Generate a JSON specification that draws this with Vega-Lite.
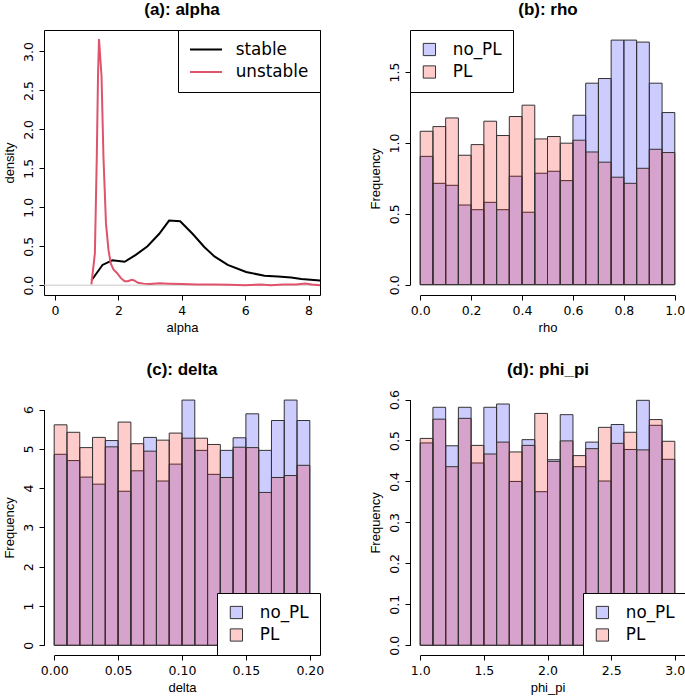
{
  "$schema": "https://vega.github.io/schema/vega-lite/v6.json",
  "background": "white",
  "autosize": {"type": "pad"},
  "padding": {"left": 2, "top": 0, "right": 0, "bottom": 0},
  "columns": 2,
  "spacing": {"row": 95, "column": 90},
  "bounds": "flush",
  "resolve": {
    "scale": {"x": "independent", "y": "independent", "color": "independent"},
    "legend": {"color": "independent"}
  },
  "config": {
    "font": "Liberation Sans",
    "view": {"stroke": null},
    "title": {"font": "Liberation Sans", "fontSize": 17, "fontWeight": "bold", "color": "black", "anchor": "middle", "frame": "group", "offset": 11},
    "axis": {
      "grid": false, "domainColor": "black", "domainWidth": 1,
      "tickColor": "black", "tickSize": 5, "tickWidth": 1,
      "labelFont": "DejaVu Sans", "labelFontSize": 12.5, "labelColor": "black",
      "labelFlush": false, "labelOverlap": false,
      "titleFont": "Liberation Sans", "titleFontSize": 13, "titleFontWeight": "normal", "titleColor": "black"
    },
    "axisX": {"labelPadding": 4, "titlePadding": 5},
    "axisY": {"labelAngle": 270, "labelAlign": "center", "labelBaseline": "alphabetic", "labelPadding": 6.6, "titlePadding": 6},
    "legend": {
      "strokeColor": "black", "fillColor": "white",
      "labelFont": "DejaVu Sans", "labelFontSize": 16.8, "labelColor": "black",
      "offset": 0, "padding": 11, "clipHeight": 17, "rowPadding": 4.5
    }
  },
  "datasets": {
    "alpha_density": [
      {"alpha": 1.15, "density": 0.06, "status": "stable"},
      {"alpha": 1.50, "density": 0.26, "status": "stable"},
      {"alpha": 1.81, "density": 0.32, "status": "stable"},
      {"alpha": 2.20, "density": 0.30, "status": "stable"},
      {"alpha": 2.55, "density": 0.39, "status": "stable"},
      {"alpha": 2.92, "density": 0.50, "status": "stable"},
      {"alpha": 3.29, "density": 0.66, "status": "stable"},
      {"alpha": 3.60, "density": 0.83, "status": "stable"},
      {"alpha": 3.95, "density": 0.82, "status": "stable"},
      {"alpha": 4.34, "density": 0.66, "status": "stable"},
      {"alpha": 4.71, "density": 0.49, "status": "stable"},
      {"alpha": 5.03, "density": 0.37, "status": "stable"},
      {"alpha": 5.45, "density": 0.26, "status": "stable"},
      {"alpha": 6.03, "density": 0.17, "status": "stable"},
      {"alpha": 6.61, "density": 0.12, "status": "stable"},
      {"alpha": 7.03, "density": 0.11, "status": "stable"},
      {"alpha": 7.45, "density": 0.10, "status": "stable"},
      {"alpha": 7.77, "density": 0.08, "status": "stable"},
      {"alpha": 8.36, "density": 0.06, "status": "stable"},
      {"alpha": 8.60, "density": 0.05, "status": "stable"},
      {"alpha": 1.15, "density": 0.01, "status": "unstable"},
      {"alpha": 1.26, "density": 0.41, "status": "unstable"},
      {"alpha": 1.32, "density": 1.65, "status": "unstable"},
      {"alpha": 1.36, "density": 2.72, "status": "unstable"},
      {"alpha": 1.39, "density": 3.16, "status": "unstable"},
      {"alpha": 1.47, "density": 2.68, "status": "unstable"},
      {"alpha": 1.53, "density": 1.65, "status": "unstable"},
      {"alpha": 1.61, "density": 0.79, "status": "unstable"},
      {"alpha": 1.69, "density": 0.45, "status": "unstable"},
      {"alpha": 1.76, "density": 0.28, "status": "unstable"},
      {"alpha": 1.85, "density": 0.20, "status": "unstable"},
      {"alpha": 1.95, "density": 0.16, "status": "unstable"},
      {"alpha": 2.08, "density": 0.09, "status": "unstable"},
      {"alpha": 2.20, "density": 0.05, "status": "unstable"},
      {"alpha": 2.30, "density": 0.05, "status": "unstable"},
      {"alpha": 2.42, "density": 0.07, "status": "unstable"},
      {"alpha": 2.50, "density": 0.06, "status": "unstable"},
      {"alpha": 2.62, "density": 0.03, "status": "unstable"},
      {"alpha": 2.80, "density": 0.02, "status": "unstable"},
      {"alpha": 3.00, "density": 0.015, "status": "unstable"},
      {"alpha": 3.30, "density": 0.025, "status": "unstable"},
      {"alpha": 3.60, "density": 0.02, "status": "unstable"},
      {"alpha": 4.00, "density": 0.015, "status": "unstable"},
      {"alpha": 4.50, "density": 0.01, "status": "unstable"},
      {"alpha": 5.00, "density": 0.01, "status": "unstable"},
      {"alpha": 5.50, "density": 0.005, "status": "unstable"},
      {"alpha": 6.00, "density": 0.0, "status": "unstable"},
      {"alpha": 6.50, "density": 0.01, "status": "unstable"},
      {"alpha": 6.80, "density": 0.0, "status": "unstable"},
      {"alpha": 7.20, "density": 0.01, "status": "unstable"},
      {"alpha": 7.60, "density": 0.01, "status": "unstable"},
      {"alpha": 7.90, "density": 0.02, "status": "unstable"},
      {"alpha": 8.10, "density": 0.01, "status": "unstable"},
      {"alpha": 8.36, "density": 0.0, "status": "unstable"}
    ],
    "rho_hist": [
      {"lo": 0.00, "hi": 0.05, "group": "no_PL", "freq": 0.905},
      {"lo": 0.05, "hi": 0.10, "group": "no_PL", "freq": 0.715},
      {"lo": 0.10, "hi": 0.15, "group": "no_PL", "freq": 0.701},
      {"lo": 0.15, "hi": 0.20, "group": "no_PL", "freq": 0.562},
      {"lo": 0.20, "hi": 0.25, "group": "no_PL", "freq": 0.529},
      {"lo": 0.25, "hi": 0.30, "group": "no_PL", "freq": 0.581},
      {"lo": 0.30, "hi": 0.35, "group": "no_PL", "freq": 0.529},
      {"lo": 0.35, "hi": 0.40, "group": "no_PL", "freq": 0.765},
      {"lo": 0.40, "hi": 0.45, "group": "no_PL", "freq": 0.511},
      {"lo": 0.45, "hi": 0.50, "group": "no_PL", "freq": 0.786},
      {"lo": 0.50, "hi": 0.55, "group": "no_PL", "freq": 0.800},
      {"lo": 0.55, "hi": 0.60, "group": "no_PL", "freq": 0.734},
      {"lo": 0.60, "hi": 0.65, "group": "no_PL", "freq": 1.195},
      {"lo": 0.65, "hi": 0.70, "group": "no_PL", "freq": 1.421},
      {"lo": 0.70, "hi": 0.75, "group": "no_PL", "freq": 1.454},
      {"lo": 0.75, "hi": 0.80, "group": "no_PL", "freq": 1.725},
      {"lo": 0.80, "hi": 0.85, "group": "no_PL", "freq": 1.725},
      {"lo": 0.85, "hi": 0.90, "group": "no_PL", "freq": 1.711},
      {"lo": 0.90, "hi": 0.95, "group": "no_PL", "freq": 1.421},
      {"lo": 0.95, "hi": 1.00, "group": "no_PL", "freq": 1.214},
      {"lo": 0.00, "hi": 0.05, "group": "PL", "freq": 1.082},
      {"lo": 0.05, "hi": 0.10, "group": "PL", "freq": 1.115},
      {"lo": 0.10, "hi": 0.15, "group": "PL", "freq": 1.176},
      {"lo": 0.15, "hi": 0.20, "group": "PL", "freq": 0.913},
      {"lo": 0.20, "hi": 0.25, "group": "PL", "freq": 0.988},
      {"lo": 0.25, "hi": 0.30, "group": "PL", "freq": 1.153},
      {"lo": 0.30, "hi": 0.35, "group": "PL", "freq": 1.052},
      {"lo": 0.35, "hi": 0.40, "group": "PL", "freq": 1.186},
      {"lo": 0.40, "hi": 0.45, "group": "PL", "freq": 1.266},
      {"lo": 0.45, "hi": 0.50, "group": "PL", "freq": 1.028},
      {"lo": 0.50, "hi": 0.55, "group": "PL", "freq": 1.045},
      {"lo": 0.55, "hi": 0.60, "group": "PL", "freq": 0.998},
      {"lo": 0.60, "hi": 0.65, "group": "PL", "freq": 1.019},
      {"lo": 0.65, "hi": 0.70, "group": "PL", "freq": 0.936},
      {"lo": 0.70, "hi": 0.75, "group": "PL", "freq": 0.864},
      {"lo": 0.75, "hi": 0.80, "group": "PL", "freq": 0.758},
      {"lo": 0.80, "hi": 0.85, "group": "PL", "freq": 0.715},
      {"lo": 0.85, "hi": 0.90, "group": "PL", "freq": 0.821},
      {"lo": 0.90, "hi": 0.95, "group": "PL", "freq": 0.955},
      {"lo": 0.95, "hi": 1.00, "group": "PL", "freq": 0.932}
    ],
    "delta_hist": [
      {"lo": 0.00, "hi": 0.01, "group": "no_PL", "freq": 4.86},
      {"lo": 0.01, "hi": 0.02, "group": "no_PL", "freq": 4.70},
      {"lo": 0.02, "hi": 0.03, "group": "no_PL", "freq": 4.28},
      {"lo": 0.03, "hi": 0.04, "group": "no_PL", "freq": 4.10},
      {"lo": 0.04, "hi": 0.05, "group": "no_PL", "freq": 5.21},
      {"lo": 0.05, "hi": 0.06, "group": "no_PL", "freq": 3.92},
      {"lo": 0.06, "hi": 0.07, "group": "no_PL", "freq": 4.44},
      {"lo": 0.07, "hi": 0.08, "group": "no_PL", "freq": 5.29},
      {"lo": 0.08, "hi": 0.09, "group": "no_PL", "freq": 4.18},
      {"lo": 0.09, "hi": 0.10, "group": "no_PL", "freq": 4.61},
      {"lo": 0.10, "hi": 0.11, "group": "no_PL", "freq": 6.24},
      {"lo": 0.11, "hi": 0.12, "group": "no_PL", "freq": 4.96},
      {"lo": 0.12, "hi": 0.13, "group": "no_PL", "freq": 4.35},
      {"lo": 0.13, "hi": 0.14, "group": "no_PL", "freq": 4.96},
      {"lo": 0.14, "hi": 0.15, "group": "no_PL", "freq": 5.28},
      {"lo": 0.15, "hi": 0.16, "group": "no_PL", "freq": 5.89},
      {"lo": 0.16, "hi": 0.17, "group": "no_PL", "freq": 4.96},
      {"lo": 0.17, "hi": 0.18, "group": "no_PL", "freq": 5.72},
      {"lo": 0.18, "hi": 0.19, "group": "no_PL", "freq": 6.24},
      {"lo": 0.19, "hi": 0.20, "group": "no_PL", "freq": 5.72},
      {"lo": 0.00, "hi": 0.01, "group": "PL", "freq": 5.61},
      {"lo": 0.01, "hi": 0.02, "group": "PL", "freq": 5.42},
      {"lo": 0.02, "hi": 0.03, "group": "PL", "freq": 5.03},
      {"lo": 0.03, "hi": 0.04, "group": "PL", "freq": 5.29},
      {"lo": 0.04, "hi": 0.05, "group": "PL", "freq": 5.05},
      {"lo": 0.05, "hi": 0.06, "group": "PL", "freq": 5.68},
      {"lo": 0.06, "hi": 0.07, "group": "PL", "freq": 5.13},
      {"lo": 0.07, "hi": 0.08, "group": "PL", "freq": 4.94},
      {"lo": 0.08, "hi": 0.09, "group": "PL", "freq": 5.22},
      {"lo": 0.09, "hi": 0.10, "group": "PL", "freq": 5.40},
      {"lo": 0.10, "hi": 0.11, "group": "PL", "freq": 5.27},
      {"lo": 0.11, "hi": 0.12, "group": "PL", "freq": 5.27},
      {"lo": 0.12, "hi": 0.13, "group": "PL", "freq": 5.11},
      {"lo": 0.13, "hi": 0.14, "group": "PL", "freq": 4.27},
      {"lo": 0.14, "hi": 0.15, "group": "PL", "freq": 5.04},
      {"lo": 0.15, "hi": 0.16, "group": "PL", "freq": 5.03},
      {"lo": 0.16, "hi": 0.17, "group": "PL", "freq": 3.89},
      {"lo": 0.17, "hi": 0.18, "group": "PL", "freq": 4.27},
      {"lo": 0.18, "hi": 0.19, "group": "PL", "freq": 4.32},
      {"lo": 0.19, "hi": 0.20, "group": "PL", "freq": 4.58}
    ],
    "phi_pi_hist": [
      {"lo": 1.0, "hi": 1.1, "group": "no_PL", "freq": 0.494},
      {"lo": 1.1, "hi": 1.2, "group": "no_PL", "freq": 0.581},
      {"lo": 1.2, "hi": 1.3, "group": "no_PL", "freq": 0.487},
      {"lo": 1.3, "hi": 1.4, "group": "no_PL", "freq": 0.581},
      {"lo": 1.4, "hi": 1.5, "group": "no_PL", "freq": 0.445},
      {"lo": 1.5, "hi": 1.6, "group": "no_PL", "freq": 0.581},
      {"lo": 1.6, "hi": 1.7, "group": "no_PL", "freq": 0.589},
      {"lo": 1.7, "hi": 1.8, "group": "no_PL", "freq": 0.400},
      {"lo": 1.8, "hi": 1.9, "group": "no_PL", "freq": 0.502},
      {"lo": 1.9, "hi": 2.0, "group": "no_PL", "freq": 0.375},
      {"lo": 2.0, "hi": 2.1, "group": "no_PL", "freq": 0.453},
      {"lo": 2.1, "hi": 2.2, "group": "no_PL", "freq": 0.563},
      {"lo": 2.2, "hi": 2.3, "group": "no_PL", "freq": 0.436},
      {"lo": 2.3, "hi": 2.4, "group": "no_PL", "freq": 0.496},
      {"lo": 2.4, "hi": 2.5, "group": "no_PL", "freq": 0.401},
      {"lo": 2.5, "hi": 2.6, "group": "no_PL", "freq": 0.539},
      {"lo": 2.6, "hi": 2.7, "group": "no_PL", "freq": 0.478},
      {"lo": 2.7, "hi": 2.8, "group": "no_PL", "freq": 0.598},
      {"lo": 2.8, "hi": 2.9, "group": "no_PL", "freq": 0.537},
      {"lo": 2.9, "hi": 3.0, "group": "no_PL", "freq": 0.454},
      {"lo": 1.0, "hi": 1.1, "group": "PL", "freq": 0.505},
      {"lo": 1.1, "hi": 1.2, "group": "PL", "freq": 0.552},
      {"lo": 1.2, "hi": 1.3, "group": "PL", "freq": 0.436},
      {"lo": 1.3, "hi": 1.4, "group": "PL", "freq": 0.554},
      {"lo": 1.4, "hi": 1.5, "group": "PL", "freq": 0.488},
      {"lo": 1.5, "hi": 1.6, "group": "PL", "freq": 0.467},
      {"lo": 1.6, "hi": 1.7, "group": "PL", "freq": 0.496},
      {"lo": 1.7, "hi": 1.8, "group": "PL", "freq": 0.472},
      {"lo": 1.8, "hi": 1.9, "group": "PL", "freq": 0.488},
      {"lo": 1.9, "hi": 2.0, "group": "PL", "freq": 0.566},
      {"lo": 2.0, "hi": 2.1, "group": "PL", "freq": 0.449},
      {"lo": 2.1, "hi": 2.2, "group": "PL", "freq": 0.499},
      {"lo": 2.2, "hi": 2.3, "group": "PL", "freq": 0.463},
      {"lo": 2.3, "hi": 2.4, "group": "PL", "freq": 0.480},
      {"lo": 2.4, "hi": 2.5, "group": "PL", "freq": 0.532},
      {"lo": 2.5, "hi": 2.6, "group": "PL", "freq": 0.493},
      {"lo": 2.6, "hi": 2.7, "group": "PL", "freq": 0.520},
      {"lo": 2.7, "hi": 2.8, "group": "PL", "freq": 0.477},
      {"lo": 2.8, "hi": 2.9, "group": "PL", "freq": 0.551},
      {"lo": 2.9, "hi": 3.0, "group": "PL", "freq": 0.498}
    ]
  },
  "concat": [
    {
      "title": "(a): alpha",
      "width": 276,
      "height": 265,
      "view": {"stroke": "black", "strokeWidth": 1},
      "layer": [
        {
          "data": {"values": [{}]},
          "mark": {"type": "rule", "color": "#c8c8c8", "strokeWidth": 1},
          "encoding": {"y": {"datum": 0, "type": "quantitative"}}
        },
        {
          "data": {"name": "alpha_density"},
          "mark": {"type": "line", "strokeWidth": 2, "clip": true},
          "encoding": {
            "x": {
              "field": "alpha", "type": "quantitative",
              "scale": {"domain": [-0.345, 8.36], "nice": false, "zero": false},
              "axis": {"values": [0, 2, 4, 6, 8], "format": "d", "domain": false, "title": "alpha"}
            },
            "y": {
              "field": "density", "type": "quantitative",
              "scale": {"domain": [-0.126, 3.276], "nice": false, "zero": false},
              "axis": {"values": [0, 0.5, 1, 1.5, 2, 2.5, 3], "format": ".1f", "domain": false, "title": "density"}
            },
            "color": {
              "field": "status", "type": "nominal",
              "scale": {"domain": ["stable", "unstable"], "range": ["black", "#DF536B"]},
              "legend": {"title": null, "orient": "top-right", "symbolType": "stroke", "symbolSize": 1024, "symbolStrokeWidth": 2, "labelOffset": 12.7}
            }
          }
        }
      ]
    },
    {
      "title": "(b): rho",
      "width": 276,
      "height": 265,
      "data": {"name": "rho_hist"},
      "mark": {"type": "bar", "stroke": "#333333", "strokeWidth": 1},
      "encoding": {
        "x": {
          "field": "lo", "type": "quantitative",
          "scale": {"domain": [0, 1], "range": [10.2, 264.8], "nice": false, "zero": false},
          "axis": {"values": [0, 0.2, 0.4, 0.6, 0.8, 1], "format": ".1f", "title": "rho"}
        },
        "x2": {"field": "hi"},
        "y": {
          "field": "freq", "type": "quantitative", "stack": null,
          "scale": {"domain": [0, 1.5], "range": [254.7, 42.0], "nice": false, "zero": false},
          "axis": {"values": [0, 0.5, 1, 1.5], "format": ".1f", "title": "Frequency"}
        },
        "y2": {"datum": 0},
        "color": {
          "field": "group", "type": "nominal",
          "scale": {"domain": ["no_PL", "PL"], "range": ["rgba(0,0,255,0.2)", "rgba(255,0,0,0.2)"]},
          "legend": {"title": null, "orient": "top-left", "symbolType": "square", "symbolSize": 150, "symbolStrokeColor": "#333333", "symbolStrokeWidth": 1, "labelOffset": 15}
        }
      }
    },
    {
      "title": "(c): delta",
      "width": 276,
      "height": 265,
      "data": {"name": "delta_hist"},
      "mark": {"type": "bar", "stroke": "#333333", "strokeWidth": 1},
      "encoding": {
        "x": {
          "field": "lo", "type": "quantitative",
          "scale": {"domain": [0, 0.2], "range": [10.2, 265.8], "nice": false, "zero": false},
          "axis": {"values": [0, 0.05, 0.1, 0.15, 0.2], "format": ".2f", "title": "delta"}
        },
        "x2": {"field": "hi"},
        "y": {
          "field": "freq", "type": "quantitative", "stack": null,
          "scale": {"domain": [0, 6], "range": [255.3, 19.5], "nice": false, "zero": false},
          "axis": {"values": [0, 1, 2, 3, 4, 5, 6], "format": "d", "title": "Frequency"}
        },
        "y2": {"datum": 0},
        "color": {
          "field": "group", "type": "nominal",
          "scale": {"domain": ["no_PL", "PL"], "range": ["rgba(0,0,255,0.2)", "rgba(255,0,0,0.2)"]},
          "legend": {"title": null, "orient": "bottom-right", "symbolType": "square", "symbolSize": 150, "symbolStrokeColor": "#333333", "symbolStrokeWidth": 1, "labelOffset": 15}
        }
      }
    },
    {
      "title": "(d): phi_pi",
      "width": 276,
      "height": 265,
      "data": {"name": "phi_pi_hist"},
      "mark": {"type": "bar", "stroke": "#333333", "strokeWidth": 1},
      "encoding": {
        "x": {
          "field": "lo", "type": "quantitative",
          "scale": {"domain": [1, 3], "range": [10.2, 264.8], "nice": false, "zero": false},
          "axis": {"values": [1, 1.5, 2, 2.5, 3], "format": ".1f", "title": "phi_pi"}
        },
        "x2": {"field": "hi"},
        "y": {
          "field": "freq", "type": "quantitative", "stack": null,
          "scale": {"domain": [0, 0.6], "range": [255.3, 9.5], "nice": false, "zero": false},
          "axis": {"values": [0, 0.1, 0.2, 0.3, 0.4, 0.5, 0.6], "format": ".1f", "title": "Frequency"}
        },
        "y2": {"datum": 0},
        "color": {
          "field": "group", "type": "nominal",
          "scale": {"domain": ["no_PL", "PL"], "range": ["rgba(0,0,255,0.2)", "rgba(255,0,0,0.2)"]},
          "legend": {"title": null, "orient": "bottom-right", "symbolType": "square", "symbolSize": 150, "symbolStrokeColor": "#333333", "symbolStrokeWidth": 1, "labelOffset": 15}
        }
      }
    }
  ]
}
